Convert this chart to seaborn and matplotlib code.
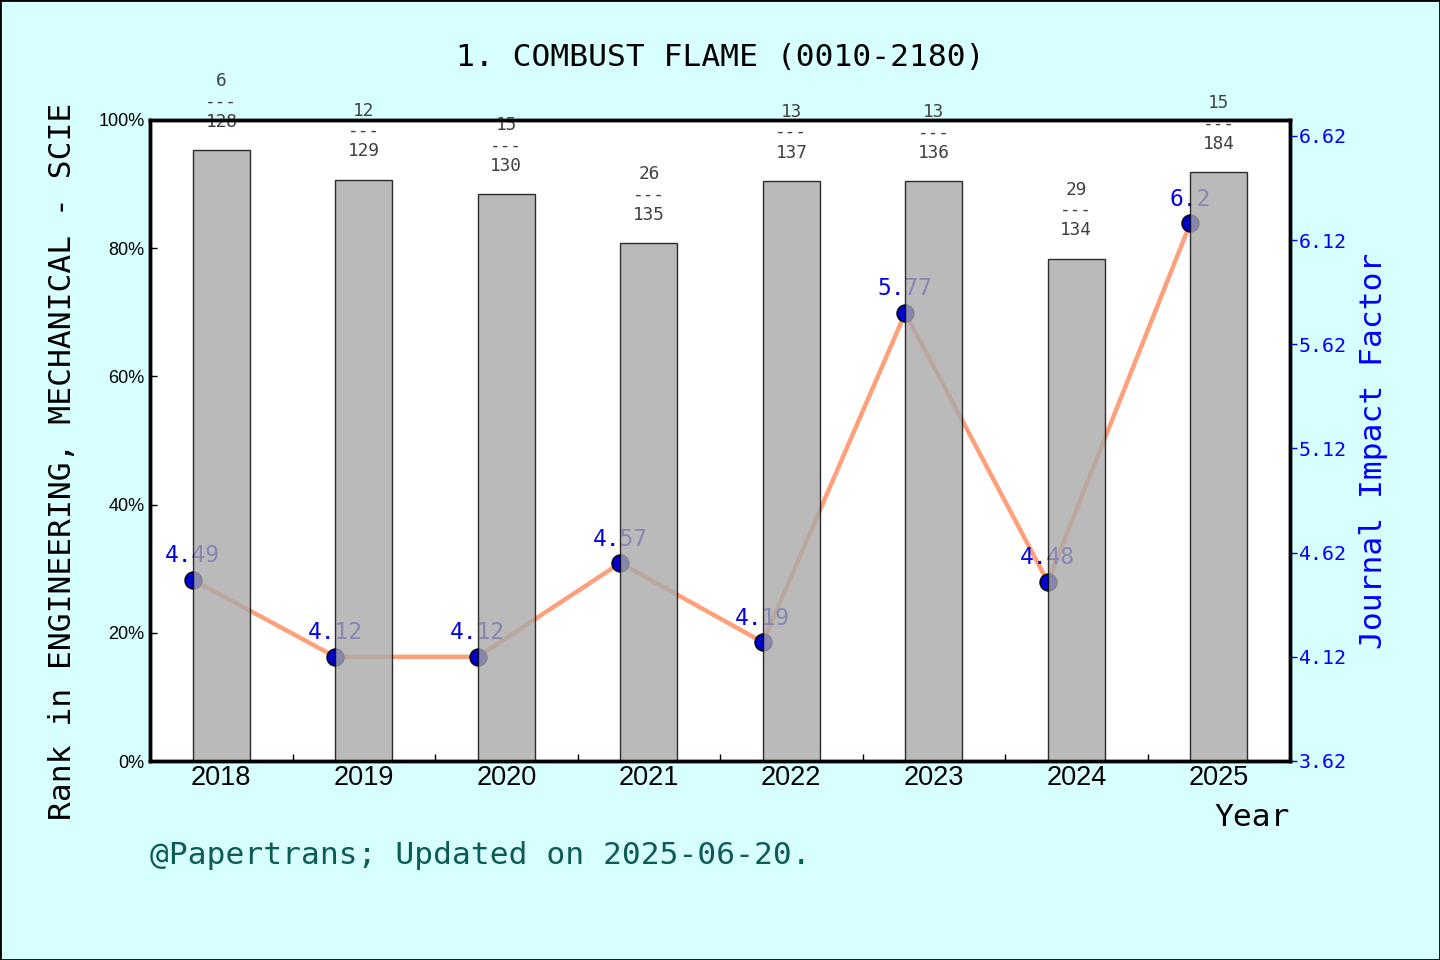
import numpy as np
import pandas as pd
import matplotlib
matplotlib.use("Agg")
import matplotlib.pyplot as plt
import seaborn as sns
from matplotlib.ticker import FixedLocator, PercentFormatter

years = ["2018", "2019", "2020", "2021", "2022", "2023", "2024", "2025"]
ranks = [6, 12, 15, 26, 13, 13, 29, 15]
totals = [128, 129, 130, 135, 137, 136, 134, 184]
impact = [4.49, 4.12, 4.12, 4.57, 4.19, 5.77, 4.48, 6.2]
right_ticks = [3.62, 4.12, 4.62, 5.12, 5.62, 6.12, 6.62]

title = "1. COMBUST FLAME (0010-2180)"
footer = "@Papertrans; Updated on 2025-06-20."
ylabel_left = "Rank in ENGINEERING, MECHANICAL - SCIE"
ylabel_right = "Journal Impact Factor"

sns.set_style("ticks")
plt.rcParams["font.family"] = ["DejaVu Sans Mono", "DejaVu Sans"]

pct = [1 - r / t for r, t in zip(ranks, totals)]
df = pd.DataFrame({"year": years, "pct": pct, "impact": impact})
df["pos"] = np.arange(len(years))

MONO = "DejaVu Sans Mono"
SANS = "Liberation Sans"

fig = plt.figure(figsize=(14.4, 9.6), dpi=100, facecolor="#D7FFFF")
ax = fig.add_axes([150/1440, 1-761/960, 1140/1440, 641/960])
ax2 = ax.twinx()
ax2.set_facecolor("white")
ax2.patch.set_visible(True)

# line on twin axis (drawn below the bars)
ax2.plot(df["pos"] - 0.2, df["impact"], color="#FFA07A", lw=3.2, zorder=2)
sns.scatterplot(x=df["pos"] - 0.2, y=df["impact"], ax=ax2, color="#0000CD",
                edgecolor="black", linewidth=1, s=150, zorder=3, legend=False)
for x, v in zip(df["pos"] - 0.2, impact):
    ax2.annotate(f"{v:g}", (x, v), xytext=(0, 9), textcoords="offset points",
                 ha="center", va="bottom", color="#0000E6", fontsize=16.5,
                 family=MONO, zorder=4)
ax2.set_ylim(3.62, 6.2 * 1.08)
ax2.yaxis.set_major_locator(FixedLocator(right_ticks))
ax2.set_yticklabels([f"{t:.2f}" for t in right_ticks])
ax2.tick_params(axis="y", colors="#0000FF", labelcolor="#0000FF", labelsize=14.4,
                direction="out", length=5, width=1, pad=1, labelfontfamily=MONO)
ax2.set_ylabel("")

# bars on primary axis, above the line
ax.set_zorder(ax2.get_zorder() + 1)
ax.patch.set_visible(False)
sns.barplot(data=df, x="year", y="pct", ax=ax, color="#A9A9A9", alpha=0.8,
            width=0.4, edgecolor="black", linewidth=1, saturation=1)
ax.set_xlim(-0.5, 7.5)
ax.set_ylim(0, 1)
ax.yaxis.set_major_locator(FixedLocator([0, 0.2, 0.4, 0.6, 0.8, 1.0]))
ax.yaxis.set_major_formatter(PercentFormatter(1.0, decimals=0))
ax.tick_params(axis="y", direction="in", length=5, width=1, labelsize=13, pad=4,
               colors="black", labelcolor="black", labelfontfamily=SANS)
ax.tick_params(axis="x", which="major", length=0, labelsize=19.5, pad=3,
               labelcolor="black", labelfontfamily=SANS)
ax.xaxis.set_minor_locator(FixedLocator(np.arange(len(years) - 1) + 0.5))
ax.tick_params(axis="x", which="minor", direction="in", length=5, width=1,
               colors="black")
ax.set_xlabel("")
ax.set_ylabel("")

for sp in ax.spines.values():
    sp.set_visible(True)
    sp.set_linewidth(2.5)
    sp.set_color("black")
for sp in ax2.spines.values():
    sp.set_linewidth(2.5)

for i, (r, t, p) in enumerate(zip(ranks, totals, pct)):
    ax.text(i, p + 0.03, f"{r}\n---\n{t}", ha="center", va="bottom",
            fontsize=12.8, color="#404040", family=MONO, linespacing=1.17,
            clip_on=False, zorder=1)

fig.text(0.5, 1 - 57/960, title, ha="center", va="center", fontsize=22.5,
         family=MONO, color="black")
fig.text(150/1440, 1 - 855/960, footer, ha="left", va="center", fontsize=22.5,
         family=MONO, color="#0B5C55")
fig.text(1290/1440, 1 - 817/960, "Year", ha="right", va="center", fontsize=22.5,
         family=MONO, color="black")
fig.text(63/1440, 1 - 461/960, ylabel_left, ha="center", va="center",
         rotation=90, fontsize=22.5, family=MONO, color="black")
fig.text(1373/1440, 1 - 451/960, ylabel_right, ha="center", va="center",
         rotation=90, fontsize=22.5, family=MONO, color="#0000FF")

# figure border
fig.patches.append(plt.Rectangle((0, 0), 1, 1, transform=fig.transFigure,
                                 fill=False, edgecolor="black", lw=2))

fig.savefig("out.png", dpi=100, facecolor=fig.get_facecolor())
